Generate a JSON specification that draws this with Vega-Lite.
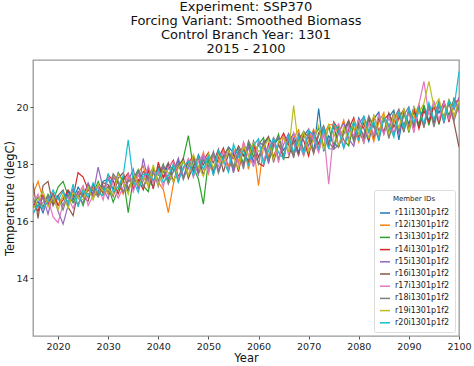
{
  "$schema": "https://vega.github.io/schema/vega-lite/v6.json",
  "width": 426,
  "height": 276,
  "autosize": {"type": "none"},
  "padding": {"left": 33, "top": 60, "right": 15, "bottom": 30},
  "background": "white",
  "config": {
    "font": "DejaVu Sans",
    "view": {"stroke": "#999", "strokeWidth": 1.3},
    "axis": {"grid": false, "domain": false, "tickColor": "#555", "tickSize": 3, "labelPadding": 2, "labelColor": "#222", "labelFontSize": 9.5, "titleFontSize": 11.5, "titleFontWeight": "normal", "titleColor": "#111", "labelFont": "DejaVu Sans", "titleFont": "DejaVu Sans"}
  },
  "title": {
    "text": ["Experiment: SSP370", "Forcing Variant: Smoothed Biomass", "Control Branch Year: 1301", "2015 - 2100"],
    "fontSize": 13,
    "fontWeight": "normal",
    "font": "DejaVu Sans",
    "color": "#111",
    "lineHeight": 14,
    "anchor": "middle",
    "offset": 4
  },
  "datasets": {
    "temps": [
{"year":2015,"r11i1301p1f2":16.45,"r12i1301p1f2":16.95,"r13i1301p1f2":16.55,"r14i1301p1f2":16.70,"r15i1301p1f2":16.30,"r16i1301p1f2":17.35,"r17i1301p1f2":16.60,"r18i1301p1f2":16.80,"r19i1301p1f2":16.40,"r20i1301p1f2":16.25},
{"year":2016,"r11i1301p1f2":16.70,"r12i1301p1f2":17.40,"r13i1301p1f2":16.85,"r14i1301p1f2":16.35,"r15i1301p1f2":16.55,"r16i1301p1f2":16.10,"r17i1301p1f2":16.95,"r18i1301p1f2":16.50,"r19i1301p1f2":16.75,"r20i1301p1f2":16.60},
{"year":2017,"r11i1301p1f2":16.30,"r12i1301p1f2":16.80,"r13i1301p1f2":16.50,"r14i1301p1f2":16.90,"r15i1301p1f2":16.85,"r16i1301p1f2":17.25,"r17i1301p1f2":16.40,"r18i1301p1f2":16.65,"r19i1301p1f2":17.05,"r20i1301p1f2":16.45},
{"year":2018,"r11i1301p1f2":16.85,"r12i1301p1f2":16.55,"r13i1301p1f2":16.95,"r14i1301p1f2":16.60,"r15i1301p1f2":16.25,"r16i1301p1f2":17.40,"r17i1301p1f2":16.80,"r18i1301p1f2":16.90,"r19i1301p1f2":16.50,"r20i1301p1f2":16.70},
{"year":2019,"r11i1301p1f2":16.60,"r12i1301p1f2":17.00,"r13i1301p1f2":16.70,"r14i1301p1f2":16.95,"r15i1301p1f2":16.95,"r16i1301p1f2":16.55,"r17i1301p1f2":16.15,"r18i1301p1f2":16.70,"r19i1301p1f2":16.85,"r20i1301p1f2":17.10},
{"year":2020,"r11i1301p1f2":16.90,"r12i1301p1f2":16.60,"r13i1301p1f2":17.20,"r14i1301p1f2":16.55,"r15i1301p1f2":16.35,"r16i1301p1f2":16.90,"r17i1301p1f2":15.95,"r18i1301p1f2":16.85,"r19i1301p1f2":16.40,"r20i1301p1f2":16.75},
{"year":2021,"r11i1301p1f2":16.55,"r12i1301p1f2":16.85,"r13i1301p1f2":17.40,"r14i1301p1f2":16.75,"r15i1301p1f2":15.90,"r16i1301p1f2":17.10,"r17i1301p1f2":16.60,"r18i1301p1f2":16.40,"r19i1301p1f2":16.95,"r20i1301p1f2":17.05},
{"year":2022,"r11i1301p1f2":17.05,"r12i1301p1f2":16.70,"r13i1301p1f2":16.90,"r14i1301p1f2":17.10,"r15i1301p1f2":16.55,"r16i1301p1f2":16.50,"r17i1301p1f2":16.85,"r18i1301p1f2":16.95,"r19i1301p1f2":16.45,"r20i1301p1f2":16.60},
{"year":2023,"r11i1301p1f2":16.75,"r12i1301p1f2":17.05,"r13i1301p1f2":16.65,"r14i1301p1f2":16.85,"r15i1301p1f2":17.15,"r16i1301p1f2":16.20,"r17i1301p1f2":16.45,"r18i1301p1f2":16.70,"r19i1301p1f2":17.00,"r20i1301p1f2":17.30},
{"year":2024,"r11i1301p1f2":17.20,"r12i1301p1f2":16.85,"r13i1301p1f2":17.00,"r14i1301p1f2":17.70,"r15i1301p1f2":16.80,"r16i1301p1f2":17.05,"r17i1301p1f2":16.95,"r18i1301p1f2":16.60,"r19i1301p1f2":16.80,"r20i1301p1f2":16.50},
{"year":2025,"r11i1301p1f2":16.90,"r12i1301p1f2":17.15,"r13i1301p1f2":16.55,"r14i1301p1f2":17.55,"r15i1301p1f2":16.65,"r16i1301p1f2":16.85,"r17i1301p1f2":17.25,"r18i1301p1f2":17.00,"r19i1301p1f2":16.75,"r20i1301p1f2":17.10},
{"year":2026,"r11i1301p1f2":17.30,"r12i1301p1f2":16.80,"r13i1301p1f2":17.15,"r14i1301p1f2":17.10,"r15i1301p1f2":17.35,"r16i1301p1f2":16.70,"r17i1301p1f2":16.55,"r18i1301p1f2":16.95,"r19i1301p1f2":17.20,"r20i1301p1f2":16.85},
{"year":2027,"r11i1301p1f2":16.85,"r12i1301p1f2":17.20,"r13i1301p1f2":16.95,"r14i1301p1f2":16.90,"r15i1301p1f2":16.95,"r16i1301p1f2":17.30,"r17i1301p1f2":16.90,"r18i1301p1f2":17.10,"r19i1301p1f2":16.75,"r20i1301p1f2":17.35},
{"year":2028,"r11i1301p1f2":17.05,"r12i1301p1f2":16.90,"r13i1301p1f2":17.40,"r14i1301p1f2":17.25,"r15i1301p1f2":17.90,"r16i1301p1f2":16.95,"r17i1301p1f2":17.20,"r18i1301p1f2":16.85,"r19i1301p1f2":17.30,"r20i1301p1f2":17.00},
{"year":2029,"r11i1301p1f2":17.40,"r12i1301p1f2":17.25,"r13i1301p1f2":16.95,"r14i1301p1f2":17.00,"r15i1301p1f2":17.15,"r16i1301p1f2":17.35,"r17i1301p1f2":16.75,"r18i1301p1f2":17.20,"r19i1301p1f2":17.05,"r20i1301p1f2":16.90},
{"year":2030,"r11i1301p1f2":17.48,"r12i1301p1f2":16.93,"r13i1301p1f2":17.23,"r14i1301p1f2":17.63,"r15i1301p1f2":16.78,"r16i1301p1f2":17.28,"r17i1301p1f2":17.53,"r18i1301p1f2":17.03,"r19i1301p1f2":17.13,"r20i1301p1f2":17.68},
{"year":2031,"r11i1301p1f2":17.12,"r12i1301p1f2":17.62,"r13i1301p1f2":16.67,"r14i1301p1f2":17.42,"r15i1301p1f2":17.52,"r16i1301p1f2":16.87,"r17i1301p1f2":17.27,"r18i1301p1f2":17.67,"r19i1301p1f2":16.92,"r20i1301p1f2":17.02},
{"year":2032,"r11i1301p1f2":17.71,"r12i1301p1f2":17.31,"r13i1301p1f2":17.11,"r14i1301p1f2":16.96,"r15i1301p1f2":17.36,"r16i1301p1f2":17.51,"r17i1301p1f2":16.81,"r18i1301p1f2":17.41,"r19i1301p1f2":17.66,"r20i1301p1f2":17.21},
{"year":2033,"r11i1301p1f2":17.40,"r12i1301p1f2":16.95,"r13i1301p1f2":17.55,"r14i1301p1f2":17.45,"r15i1301p1f2":17.05,"r16i1301p1f2":17.70,"r17i1301p1f2":17.20,"r18i1301p1f2":17.00,"r19i1301p1f2":17.35,"r20i1301p1f2":17.60},
{"year":2034,"r11i1301p1f2":17.04,"r12i1301p1f2":17.54,"r13i1301p1f2":16.30,"r14i1301p1f2":17.69,"r15i1301p1f2":17.39,"r16i1301p1f2":17.14,"r17i1301p1f2":17.64,"r18i1301p1f2":17.44,"r19i1301p1f2":16.94,"r20i1301p1f2":18.85},
{"year":2035,"r11i1301p1f2":17.63,"r12i1301p1f2":17.23,"r13i1301p1f2":17.48,"r14i1301p1f2":17.13,"r15i1301p1f2":17.83,"r16i1301p1f2":17.53,"r17i1301p1f2":17.03,"r18i1301p1f2":17.33,"r19i1301p1f2":17.68,"r20i1301p1f2":17.43},
{"year":2036,"r11i1301p1f2":17.21,"r12i1301p1f2":17.71,"r13i1301p1f2":17.81,"r14i1301p1f2":17.46,"r15i1301p1f2":17.11,"r16i1301p1f2":17.31,"r17i1301p1f2":17.61,"r18i1301p1f2":17.76,"r19i1301p1f2":17.26,"r20i1301p1f2":17.01},
{"year":2037,"r11i1301p1f2":17.50,"r12i1301p1f2":17.95,"r13i1301p1f2":17.25,"r14i1301p1f2":17.10,"r15i1301p1f2":18.20,"r16i1301p1f2":17.75,"r17i1301p1f2":17.40,"r18i1301p1f2":17.20,"r19i1301p1f2":17.55,"r20i1301p1f2":17.65},
{"year":2038,"r11i1301p1f2":17.89,"r12i1301p1f2":17.19,"r13i1301p1f2":17.04,"r14i1301p1f2":17.79,"r15i1301p1f2":17.39,"r16i1301p1f2":17.54,"r17i1301p1f2":17.94,"r18i1301p1f2":17.59,"r19i1301p1f2":17.24,"r20i1301p1f2":17.64},
{"year":2039,"r11i1301p1f2":17.38,"r12i1301p1f2":17.68,"r13i1301p1f2":17.83,"r14i1301p1f2":17.13,"r15i1301p1f2":17.78,"r16i1301p1f2":17.18,"r17i1301p1f2":17.33,"r18i1301p1f2":17.88,"r19i1301p1f2":17.98,"r20i1301p1f2":17.43},
{"year":2040,"r11i1301p1f2":17.87,"r12i1301p1f2":17.37,"r13i1301p1f2":17.62,"r14i1301p1f2":18.07,"r15i1301p1f2":17.22,"r16i1301p1f2":17.92,"r17i1301p1f2":17.72,"r18i1301p1f2":17.42,"r19i1301p1f2":17.27,"r20i1301p1f2":17.82},
{"year":2041,"r11i1301p1f2":17.56,"r12i1301p1f2":17.11,"r13i1301p1f2":18.01,"r14i1301p1f2":17.51,"r15i1301p1f2":17.96,"r16i1301p1f2":17.71,"r17i1301p1f2":17.21,"r18i1301p1f2":17.86,"r19i1301p1f2":17.81,"r20i1301p1f2":17.36},
{"year":2042,"r11i1301p1f2":18.00,"r12i1301p1f2":16.30,"r13i1301p1f2":17.40,"r14i1301p1f2":17.85,"r15i1301p1f2":17.50,"r16i1301p1f2":18.05,"r17i1301p1f2":17.90,"r18i1301p1f2":17.30,"r19i1301p1f2":17.70,"r20i1301p1f2":17.60},
{"year":2043,"r11i1301p1f2":17.79,"r12i1301p1f2":17.29,"r13i1301p1f2":17.99,"r14i1301p1f2":18.14,"r15i1301p1f2":17.74,"r16i1301p1f2":17.39,"r17i1301p1f2":18.09,"r18i1301p1f2":17.74,"r19i1301p1f2":17.39,"r20i1301p1f2":17.99},
{"year":2044,"r11i1301p1f2":18.12,"r12i1301p1f2":17.97,"r13i1301p1f2":17.37,"r14i1301p1f2":17.57,"r15i1301p1f2":18.22,"r16i1301p1f2":17.92,"r17i1301p1f2":17.52,"r18i1301p1f2":18.02,"r19i1301p1f2":17.87,"r20i1301p1f2":17.37},
{"year":2045,"r11i1301p1f2":17.51,"r12i1301p1f2":18.11,"r13i1301p1f2":18.21,"r14i1301p1f2":17.86,"r15i1301p1f2":17.56,"r16i1301p1f2":18.21,"r17i1301p1f2":17.81,"r18i1301p1f2":17.46,"r19i1301p1f2":18.11,"r20i1301p1f2":17.91},
{"year":2046,"r11i1301p1f2":18.15,"r12i1301p1f2":17.55,"r13i1301p1f2":19.00,"r14i1301p1f2":18.05,"r15i1301p1f2":17.85,"r16i1301p1f2":17.50,"r17i1301p1f2":18.20,"r18i1301p1f2":17.95,"r19i1301p1f2":17.60,"r20i1301p1f2":18.10},
{"year":2047,"r11i1301p1f2":17.74,"r12i1301p1f2":18.24,"r13i1301p1f2":17.89,"r14i1301p1f2":18.29,"r15i1301p1f2":18.14,"r16i1301p1f2":17.94,"r17i1301p1f2":17.54,"r18i1301p1f2":18.19,"r19i1301p1f2":18.34,"r20i1301p1f2":17.59},
{"year":2048,"r11i1301p1f2":18.33,"r12i1301p1f2":17.83,"r13i1301p1f2":17.48,"r14i1301p1f2":17.68,"r15i1301p1f2":17.63,"r16i1301p1f2":18.23,"r17i1301p1f2":18.08,"r18i1301p1f2":17.78,"r19i1301p1f2":17.93,"r20i1301p1f2":18.28},
{"year":2049,"r11i1301p1f2":17.97,"r12i1301p1f2":18.42,"r13i1301p1f2":16.60,"r14i1301p1f2":18.12,"r15i1301p1f2":18.32,"r16i1301p1f2":17.62,"r17i1301p1f2":18.37,"r18i1301p1f2":18.17,"r19i1301p1f2":17.57,"r20i1301p1f2":17.82},
{"year":2050,"r11i1301p1f2":18.31,"r12i1301p1f2":17.66,"r13i1301p1f2":18.11,"r14i1301p1f2":18.41,"r15i1301p1f2":17.76,"r16i1301p1f2":18.21,"r17i1301p1f2":17.71,"r18i1301p1f2":17.91,"r19i1301p1f2":18.36,"r20i1301p1f2":18.26},
{"year":2051,"r11i1301p1f2":17.80,"r12i1301p1f2":18.25,"r13i1301p1f2":18.40,"r14i1301p1f2":17.65,"r15i1301p1f2":18.45,"r16i1301p1f2":18.05,"r17i1301p1f2":18.30,"r18i1301p1f2":18.40,"r19i1301p1f2":17.85,"r20i1301p1f2":17.60},
{"year":2052,"r11i1301p1f2":18.43,"r12i1301p1f2":18.08,"r13i1301p1f2":17.73,"r14i1301p1f2":18.23,"r15i1301p1f2":17.78,"r16i1301p1f2":18.53,"r17i1301p1f2":17.93,"r18i1301p1f2":17.68,"r19i1301p1f2":18.33,"r20i1301p1f2":18.48},
{"year":2053,"r11i1301p1f2":18.22,"r12i1301p1f2":18.52,"r13i1301p1f2":18.32,"r14i1301p1f2":18.57,"r15i1301p1f2":18.17,"r16i1301p1f2":17.72,"r17i1301p1f2":18.47,"r18i1301p1f2":18.22,"r19i1301p1f2":18.02,"r20i1301p1f2":18.12},
{"year":2054,"r11i1301p1f2":18.61,"r12i1301p1f2":17.91,"r13i1301p1f2":18.56,"r14i1301p1f2":17.76,"r15i1301p1f2":18.41,"r16i1301p1f2":18.36,"r17i1301p1f2":17.81,"r18i1301p1f2":18.56,"r19i1301p1f2":18.46,"r20i1301p1f2":17.71},
{"year":2055,"r11i1301p1f2":18.40,"r12i1301p1f2":18.55,"r13i1301p1f2":17.75,"r14i1301p1f2":18.40,"r15i1301p1f2":17.70,"r16i1301p1f2":18.20,"r17i1301p1f2":18.50,"r18i1301p1f2":17.90,"r19i1301p1f2":18.25,"r20i1301p1f2":18.70},
{"year":2056,"r11i1301p1f2":18.54,"r12i1301p1f2":18.09,"r13i1301p1f2":18.49,"r14i1301p1f2":17.74,"r15i1301p1f2":18.39,"r16i1301p1f2":18.64,"r17i1301p1f2":17.99,"r18i1301p1f2":18.49,"r19i1301p1f2":17.84,"r20i1301p1f2":18.24},
{"year":2057,"r11i1301p1f2":18.28,"r12i1301p1f2":18.73,"r13i1301p1f2":18.03,"r14i1301p1f2":18.58,"r15i1301p1f2":17.93,"r16i1301p1f2":18.33,"r17i1301p1f2":18.78,"r18i1301p1f2":17.83,"r19i1301p1f2":18.63,"r20i1301p1f2":18.48},
{"year":2058,"r11i1301p1f2":18.72,"r12i1301p1f2":17.82,"r13i1301p1f2":18.77,"r14i1301p1f2":18.02,"r15i1301p1f2":18.62,"r16i1301p1f2":18.12,"r17i1301p1f2":18.32,"r18i1301p1f2":18.82,"r19i1301p1f2":18.27,"r20i1301p1f2":17.97},
{"year":2059,"r11i1301p1f2":18.06,"r12i1301p1f2":18.61,"r13i1301p1f2":18.26,"r14i1301p1f2":18.71,"r15i1301p1f2":17.91,"r16i1301p1f2":18.81,"r17i1301p1f2":17.96,"r18i1301p1f2":18.46,"r19i1301p1f2":18.76,"r20i1301p1f2":18.66},
{"year":2060,"r11i1301p1f2":18.74,"r12i1301p1f2":17.25,"r13i1301p1f2":18.69,"r14i1301p1f2":18.04,"r15i1301p1f2":18.79,"r16i1301p1f2":18.24,"r17i1301p1f2":18.84,"r18i1301p1f2":17.99,"r19i1301p1f2":18.44,"r20i1301p1f2":18.89},
{"year":2061,"r11i1301p1f2":18.68,"r12i1301p1f2":18.63,"r13i1301p1f2":18.93,"r14i1301p1f2":17.93,"r15i1301p1f2":18.68,"r16i1301p1f2":18.73,"r17i1301p1f2":18.13,"r18i1301p1f2":18.83,"r19i1301p1f2":18.58,"r20i1301p1f2":17.98},
{"year":2062,"r11i1301p1f2":18.92,"r12i1301p1f2":18.27,"r13i1301p1f2":18.07,"r14i1301p1f2":18.72,"r15i1301p1f2":18.02,"r16i1301p1f2":18.97,"r17i1301p1f2":18.62,"r18i1301p1f2":18.17,"r19i1301p1f2":18.87,"r20i1301p1f2":18.47},
{"year":2063,"r11i1301p1f2":18.66,"r12i1301p1f2":18.91,"r13i1301p1f2":18.61,"r14i1301p1f2":18.26,"r15i1301p1f2":18.96,"r16i1301p1f2":18.06,"r17i1301p1f2":18.86,"r18i1301p1f2":18.76,"r19i1301p1f2":18.16,"r20i1301p1f2":18.91},
{"year":2064,"r11i1301p1f2":18.90,"r12i1301p1f2":18.15,"r13i1301p1f2":19.05,"r14i1301p1f2":18.75,"r15i1301p1f2":18.15,"r16i1301p1f2":18.70,"r17i1301p1f2":18.05,"r18i1301p1f2":18.95,"r19i1301p1f2":18.80,"r20i1301p1f2":18.40},
{"year":2065,"r11i1301p1f2":18.49,"r12i1301p1f2":19.04,"r13i1301p1f2":18.14,"r14i1301p1f2":19.09,"r15i1301p1f2":18.69,"r16i1301p1f2":18.24,"r17i1301p1f2":18.99,"r18i1301p1f2":18.29,"r19i1301p1f2":18.94,"r20i1301p1f2":18.19},
{"year":2066,"r11i1301p1f2":18.78,"r12i1301p1f2":18.38,"r13i1301p1f2":19.03,"r14i1301p1f2":18.68,"r15i1301p1f2":19.08,"r16i1301p1f2":18.23,"r17i1301p1f2":18.33,"r18i1301p1f2":18.93,"r19i1301p1f2":18.43,"r20i1301p1f2":18.98},
{"year":2067,"r11i1301p1f2":19.07,"r12i1301p1f2":18.92,"r13i1301p1f2":18.32,"r14i1301p1f2":18.27,"r15i1301p1f2":18.72,"r16i1301p1f2":18.87,"r17i1301p1f2":19.12,"r18i1301p1f2":18.22,"r19i1301p1f2":20.05,"r20i1301p1f2":18.42},
{"year":2068,"r11i1301p1f2":18.40,"r12i1301p1f2":19.20,"r13i1301p1f2":18.85,"r14i1301p1f2":19.05,"r15i1301p1f2":18.30,"r16i1301p1f2":18.35,"r17i1301p1f2":18.75,"r18i1301p1f2":19.10,"r19i1301p1f2":18.60,"r20i1301p1f2":18.95},
{"year":2069,"r11i1301p1f2":18.99,"r12i1301p1f2":18.29,"r13i1301p1f2":19.14,"r14i1301p1f2":18.84,"r15i1301p1f2":19.09,"r16i1301p1f2":19.14,"r17i1301p1f2":18.29,"r18i1301p1f2":18.49,"r19i1301p1f2":19.14,"r20i1301p1f2":18.34},
{"year":2070,"r11i1301p1f2":19.23,"r12i1301p1f2":18.83,"r13i1301p1f2":18.43,"r14i1301p1f2":18.28,"r15i1301p1f2":18.63,"r16i1301p1f2":18.93,"r17i1301p1f2":19.23,"r18i1301p1f2":19.08,"r19i1301p1f2":18.43,"r20i1301p1f2":19.18},
{"year":2071,"r11i1301p1f2":18.42,"r12i1301p1f2":19.22,"r13i1301p1f2":18.92,"r14i1301p1f2":19.12,"r15i1301p1f2":19.17,"r16i1301p1f2":18.37,"r17i1301p1f2":18.82,"r18i1301p1f2":18.42,"r19i1301p1f2":18.87,"r20i1301p1f2":19.02},
{"year":2072,"r11i1301p1f2":19.95,"r12i1301p1f2":18.46,"r13i1301p1f2":19.26,"r14i1301p1f2":18.71,"r15i1301p1f2":18.51,"r16i1301p1f2":19.11,"r17i1301p1f2":18.41,"r18i1301p1f2":19.01,"r19i1301p1f2":19.36,"r20i1301p1f2":18.56},
{"year":2073,"r11i1301p1f2":18.45,"r12i1301p1f2":19.00,"r13i1301p1f2":18.60,"r14i1301p1f2":19.30,"r15i1301p1f2":19.20,"r16i1301p1f2":19.25,"r17i1301p1f2":19.15,"r18i1301p1f2":19.35,"r19i1301p1f2":18.50,"r20i1301p1f2":19.30},
{"year":2074,"r11i1301p1f2":18.99,"r12i1301p1f2":19.39,"r13i1301p1f2":19.34,"r14i1301p1f2":18.59,"r15i1301p1f2":18.54,"r16i1301p1f2":18.69,"r17i1301p1f2":17.30,"r18i1301p1f2":18.79,"r19i1301p1f2":19.39,"r20i1301p1f2":18.54},
{"year":2075,"r11i1301p1f2":18.73,"r12i1301p1f2":19.38,"r13i1301p1f2":18.58,"r14i1301p1f2":19.48,"r15i1301p1f2":18.53,"r16i1301p1f2":19.33,"r17i1301p1f2":19.13,"r18i1301p1f2":18.53,"r19i1301p1f2":19.08,"r20i1301p1f2":19.43},
{"year":2076,"r11i1301p1f2":18.61,"r12i1301p1f2":19.06,"r13i1301p1f2":19.36,"r14i1301p1f2":19.21,"r15i1301p1f2":19.11,"r16i1301p1f2":18.61,"r17i1301p1f2":19.41,"r18i1301p1f2":18.66,"r19i1301p1f2":18.66,"r20i1301p1f2":19.16},
{"year":2077,"r11i1301p1f2":19.20,"r12i1301p1f2":19.55,"r13i1301p1f2":18.85,"r14i1301p1f2":18.60,"r15i1301p1f2":19.45,"r16i1301p1f2":19.20,"r17i1301p1f2":18.60,"r18i1301p1f2":19.05,"r19i1301p1f2":19.30,"r20i1301p1f2":18.55},
{"year":2078,"r11i1301p1f2":19.49,"r12i1301p1f2":18.74,"r13i1301p1f2":18.64,"r14i1301p1f2":19.24,"r15i1301p1f2":18.89,"r16i1301p1f2":19.54,"r17i1301p1f2":19.34,"r18i1301p1f2":19.44,"r19i1301p1f2":18.79,"r20i1301p1f2":19.09},
{"year":2079,"r11i1301p1f2":18.93,"r12i1301p1f2":19.28,"r13i1301p1f2":19.43,"r14i1301p1f2":19.63,"r15i1301p1f2":18.63,"r16i1301p1f2":18.88,"r17i1301p1f2":18.98,"r18i1301p1f2":18.78,"r19i1301p1f2":19.53,"r20i1301p1f2":19.48},
{"year":2080,"r11i1301p1f2":19.62,"r12i1301p1f2":18.77,"r13i1301p1f2":19.22,"r14i1301p1f2":18.92,"r15i1301p1f2":19.42,"r16i1301p1f2":19.47,"r17i1301p1f2":19.57,"r18i1301p1f2":19.32,"r19i1301p1f2":19.07,"r20i1301p1f2":18.82},
{"year":2081,"r11i1301p1f2":19.26,"r12i1301p1f2":19.61,"r13i1301p1f2":18.76,"r14i1301p1f2":19.46,"r15i1301p1f2":19.66,"r16i1301p1f2":18.91,"r17i1301p1f2":18.71,"r18i1301p1f2":19.01,"r19i1301p1f2":19.56,"r20i1301p1f2":19.71},
{"year":2082,"r11i1301p1f2":18.80,"r12i1301p1f2":19.35,"r13i1301p1f2":19.65,"r14i1301p1f2":18.85,"r15i1301p1f2":19.10,"r16i1301p1f2":19.60,"r17i1301p1f2":19.45,"r18i1301p1f2":19.70,"r19i1301p1f2":18.90,"r20i1301p1f2":19.15},
{"year":2083,"r11i1301p1f2":19.59,"r12i1301p1f2":18.79,"r13i1301p1f2":19.29,"r14i1301p1f2":19.69,"r15i1301p1f2":19.44,"r16i1301p1f2":18.94,"r17i1301p1f2":19.04,"r18i1301p1f2":19.34,"r19i1301p1f2":19.74,"r20i1301p1f2":19.49},
{"year":2084,"r11i1301p1f2":19.82,"r12i1301p1f2":19.47,"r13i1301p1f2":18.92,"r14i1301p1f2":19.17,"r15i1301p1f2":18.82,"r16i1301p1f2":19.62,"r17i1301p1f2":19.77,"r18i1301p1f2":18.92,"r19i1301p1f2":19.07,"r20i1301p1f2":18.87},
{"year":2085,"r11i1301p1f2":19.06,"r12i1301p1f2":19.81,"r13i1301p1f2":19.61,"r14i1301p1f2":19.56,"r15i1301p1f2":19.66,"r16i1301p1f2":19.11,"r17i1301p1f2":19.01,"r18i1301p1f2":19.71,"r19i1301p1f2":19.76,"r20i1301p1f2":19.61},
{"year":2086,"r11i1301p1f2":19.65,"r12i1301p1f2":18.95,"r13i1301p1f2":19.15,"r14i1301p1f2":19.75,"r15i1301p1f2":19.30,"r16i1301p1f2":19.80,"r17i1301p1f2":19.70,"r18i1301p1f2":18.90,"r19i1301p1f2":19.05,"r20i1301p1f2":19.40},
{"year":2087,"r11i1301p1f2":19.89,"r12i1301p1f2":19.44,"r13i1301p1f2":19.84,"r14i1301p1f2":19.04,"r15i1301p1f2":19.79,"r16i1301p1f2":19.29,"r17i1301p1f2":18.99,"r18i1301p1f2":19.59,"r19i1301p1f2":19.74,"r20i1301p1f2":18.94},
{"year":2088,"r11i1301p1f2":18.85,"r12i1301p1f2":19.88,"r13i1301p1f2":19.13,"r14i1301p1f2":19.63,"r15i1301p1f2":19.08,"r16i1301p1f2":19.73,"r17i1301p1f2":19.88,"r18i1301p1f2":19.93,"r19i1301p1f2":19.28,"r20i1301p1f2":19.83},
{"year":2089,"r11i1301p1f2":19.87,"r12i1301p1f2":19.17,"r13i1301p1f2":19.82,"r14i1301p1f2":19.92,"r15i1301p1f2":19.72,"r16i1301p1f2":19.12,"r17i1301p1f2":19.27,"r18i1301p1f2":19.37,"r19i1301p1f2":19.97,"r20i1301p1f2":19.22},
{"year":2090,"r11i1301p1f2":19.41,"r12i1301p1f2":19.86,"r13i1301p1f2":19.11,"r14i1301p1f2":19.26,"r15i1301p1f2":20.01,"r16i1301p1f2":19.91,"r17i1301p1f2":19.81,"r18i1301p1f2":19.86,"r19i1301p1f2":19.16,"r20i1301p1f2":19.96},
{"year":2091,"r11i1301p1f2":20.00,"r12i1301p1f2":19.60,"r13i1301p1f2":19.85,"r14i1301p1f2":19.95,"r15i1301p1f2":19.25,"r16i1301p1f2":19.35,"r17i1301p1f2":19.10,"r18i1301p1f2":19.40,"r19i1301p1f2":20.00,"r20i1301p1f2":19.45},
{"year":2092,"r11i1301p1f2":19.29,"r12i1301p1f2":20.09,"r13i1301p1f2":19.39,"r14i1301p1f2":19.24,"r15i1301p1f2":19.89,"r16i1301p1f2":20.04,"r17i1301p1f2":20.09,"r18i1301p1f2":19.99,"r19i1301p1f2":19.79,"r20i1301p1f2":19.94},
{"year":2093,"r11i1301p1f2":20.03,"r12i1301p1f2":19.28,"r13i1301p1f2":20.08,"r14i1301p1f2":19.88,"r15i1301p1f2":19.38,"r16i1301p1f2":19.33,"r17i1301p1f2":20.90,"r18i1301p1f2":19.28,"r19i1301p1f2":20.13,"r20i1301p1f2":19.43},
{"year":2094,"r11i1301p1f2":19.51,"r12i1301p1f2":20.11,"r13i1301p1f2":19.36,"r14i1301p1f2":19.46,"r15i1301p1f2":20.11,"r16i1301p1f2":20.01,"r17i1301p1f2":19.71,"r18i1301p1f2":20.06,"r19i1301p1f2":20.90,"r20i1301p1f2":20.16},
{"year":2095,"r11i1301p1f2":20.15,"r12i1301p1f2":19.45,"r13i1301p1f2":20.10,"r14i1301p1f2":20.05,"r15i1301p1f2":19.40,"r16i1301p1f2":19.45,"r17i1301p1f2":20.20,"r18i1301p1f2":19.30,"r19i1301p1f2":20.00,"r20i1301p1f2":19.55},
{"year":2096,"r11i1301p1f2":19.79,"r12i1301p1f2":20.24,"r13i1301p1f2":19.39,"r14i1301p1f2":19.44,"r15i1301p1f2":20.09,"r16i1301p1f2":20.19,"r17i1301p1f2":19.54,"r18i1301p1f2":20.04,"r19i1301p1f2":20.29,"r20i1301p1f2":20.14},
{"year":2097,"r11i1301p1f2":20.18,"r12i1301p1f2":19.48,"r13i1301p1f2":20.08,"r14i1301p1f2":20.23,"r15i1301p1f2":19.43,"r16i1301p1f2":19.53,"r17i1301p1f2":20.18,"r18i1301p1f2":19.68,"r19i1301p1f2":19.58,"r20i1301p1f2":19.48},
{"year":2098,"r11i1301p1f2":19.57,"r12i1301p1f2":20.27,"r13i1301p1f2":19.72,"r14i1301p1f2":19.47,"r15i1301p1f2":20.22,"r16i1301p1f2":20.17,"r17i1301p1f2":19.57,"r18i1301p1f2":20.22,"r19i1301p1f2":20.27,"r20i1301p1f2":20.22},
{"year":2099,"r11i1301p1f2":20.31,"r12i1301p1f2":19.66,"r13i1301p1f2":20.26,"r14i1301p1f2":20.16,"r15i1301p1f2":19.91,"r16i1301p1f2":19.46,"r17i1301p1f2":20.21,"r18i1301p1f2":19.51,"r19i1301p1f2":19.71,"r20i1301p1f2":19.96},
{"year":2100,"r11i1301p1f2":19.95,"r12i1301p1f2":20.15,"r13i1301p1f2":19.85,"r14i1301p1f2":20.25,"r15i1301p1f2":20.35,"r16i1301p1f2":18.60,"r17i1301p1f2":19.80,"r18i1301p1f2":20.10,"r19i1301p1f2":20.20,"r20i1301p1f2":21.25}
    ]
  },
  "data": {"name": "temps"},
  "transform": [
    {"fold": ["r11i1301p1f2","r12i1301p1f2","r13i1301p1f2","r14i1301p1f2","r15i1301p1f2","r16i1301p1f2","r17i1301p1f2","r18i1301p1f2","r19i1301p1f2","r20i1301p1f2"], "as": ["member", "temp"]}
  ],
  "mark": {"type": "line", "strokeWidth": 1.2, "clip": true},
  "encoding": {
    "x": {"field": "year", "type": "quantitative", "title": "Year",
      "scale": {"domain": [2015, 2100], "nice": false, "zero": false},
      "axis": {"values": [2020,2030,2040,2050,2060,2070,2080,2090,2100], "format": "d", "labelFlush": false, "titlePadding": 2}},
    "y": {"field": "temp", "type": "quantitative", "title": "Temperature (degC)",
      "scale": {"domain": [11.98, 21.65], "nice": false, "zero": false},
      "axis": {"values": [14,16,18,20], "titlePadding": 0}},
    "color": {"field": "member", "type": "nominal",
      "scale": {"domain": ["r11i1301p1f2","r12i1301p1f2","r13i1301p1f2","r14i1301p1f2","r15i1301p1f2","r16i1301p1f2","r17i1301p1f2","r18i1301p1f2","r19i1301p1f2","r20i1301p1f2"],
        "range": ["#1f77b4","#ff7f0e","#2ca02c","#d62728","#9467bd","#8c564b","#e377c2","#7f7f7f","#bcbd22","#17becf"]},
      "legend": {"title": "Member IDs", "orient": "bottom-right", "offset": 4, "fillColor": "white", "strokeColor": "#ddd", "cornerRadius": 2, "padding": 5,
        "titleFontSize": 7, "titleFontWeight": "normal", "titleAnchor": "middle", "titleColor": "#222",
        "labelFontSize": 8, "labelColor": "#222", "symbolType": "stroke", "symbolSize": 100, "symbolStrokeWidth": 1.5, "rowPadding": 2.2}}
  }
}
